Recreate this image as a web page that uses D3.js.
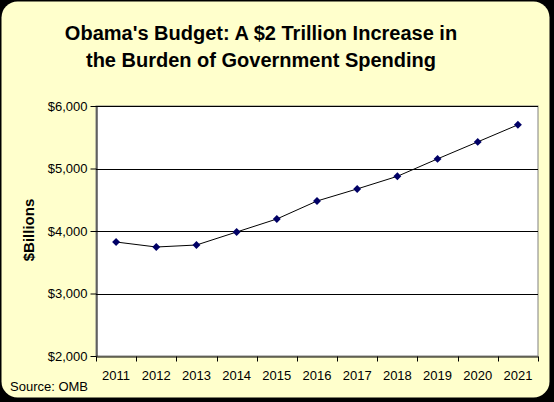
<!DOCTYPE html>
<html>
<head>
<meta charset="utf-8">
<script src="https://cdn.jsdelivr.net/npm/d3@7.9.0/dist/d3.min.js"></script>
<style>
  html, body { margin: 0; padding: 0; background: #000; }
  svg { display: block; }
  text { font-family: "Liberation Sans", Arial, sans-serif; }
</style>
</head>
<body>
<svg width="554" height="402"></svg>
<script>
const years = ['2011','2012','2013','2014','2015','2016','2017','2018','2019','2020','2021'];
const spending = [3824, 3744, 3776, 3984, 4192, 4480, 4673, 4875, 5154, 5426, 5699];
const yTicks = [2000, 3000, 4000, 5000, 6000];
const titleLines = ["Obama's Budget: A $2 Trillion Increase in", "the Burden of Government Spending"];

const svg = d3.select('svg');

// chart area background (rounded, pale yellow) on black
svg.append('rect')
  .attr('x', 1.5).attr('y', 1.5)
  .attr('width', 548).attr('height', 396)
  .attr('rx', 16)
  .attr('fill', '#ffffcc');

const plot = { left: 96, right: 538, top: 106, bottom: 356 };

const x = d3.scaleBand().domain(years).range([plot.left, plot.right]);
const y = d3.scaleLinear().domain([2000, 6000]).range([plot.bottom, plot.top]);

svg.append('rect')
  .attr('x', plot.left).attr('y', plot.top)
  .attr('width', plot.right - plot.left).attr('height', plot.bottom - plot.top)
  .attr('fill', '#fff')
  .attr('stroke', '#808080');

// gridlines
svg.append('g')
  .selectAll('line')
  .data(yTicks.slice(1))
  .join('line')
  .attr('x1', plot.left).attr('x2', plot.right)
  .attr('y1', d => Math.round(y(d)) + 0.5).attr('y2', d => Math.round(y(d)) + 0.5)
  .attr('stroke', '#000');

// y axis
const yAxis = svg.append('g')
  .attr('transform', `translate(${plot.left + 0.5},0)`)
  .call(d3.axisLeft(y).tickValues(yTicks).tickSize(6).tickSizeOuter(0)
    .tickFormat(d => '$' + d3.format(',')(d)));
yAxis.select('.domain').attr('stroke', '#000');
yAxis.selectAll('.tick line').attr('stroke', '#000');
yAxis.selectAll('text').attr('font-size', 13).attr('fill', '#000').attr('x', -9);

// x axis
const xAxis = svg.append('g')
  .attr('transform', `translate(0,${plot.bottom + 0.5})`)
  .call(d3.axisBottom(x).tickSize(0).tickSizeOuter(0));
xAxis.select('.domain').attr('stroke', '#000');
xAxis.selectAll('text').attr('font-size', 13).attr('fill', '#000').attr('dy', 0).attr('y', 23);
// category separator ticks
xAxis.append('g')
  .selectAll('line')
  .data(d3.range(years.length + 1))
  .join('line')
  .attr('x1', i => Math.round(plot.left + i * x.step()) + 0.5)
  .attr('x2', i => Math.round(plot.left + i * x.step()) + 0.5)
  .attr('y1', 0).attr('y2', 5)
  .attr('stroke', '#000');

// series line
const line = d3.line()
  .x((d, i) => x(years[i]) + x.bandwidth() / 2)
  .y(d => y(d));

svg.append('path')
  .datum(spending)
  .attr('d', line)
  .attr('fill', 'none')
  .attr('stroke', '#000')
  .attr('stroke-width', 1);

svg.append('g')
  .selectAll('path')
  .data(spending)
  .join('path')
  .attr('d', d3.symbol(d3.symbolDiamond2, 40))
  .attr('transform', (d, i) => `translate(${x(years[i]) + x.bandwidth() / 2},${y(d)})`)
  .attr('fill', '#000066');

// title
svg.append('text')
  .attr('x', 261).attr('y', 40)
  .attr('text-anchor', 'middle')
  .attr('font-size', 20).attr('font-weight', 'bold')
  .selectAll('tspan')
  .data(titleLines)
  .join('tspan')
  .attr('x', 261)
  .attr('dy', (d, i) => i ? 27 : 0)
  .text(d => d);

// y axis title
svg.append('text')
  .attr('transform', `translate(34,230) rotate(-90)`)
  .attr('text-anchor', 'middle')
  .attr('font-size', 15).attr('font-weight', 'bold')
  .text('$Billions');

svg.append('text')
  .attr('x', 10).attr('y', 391)
  .attr('font-size', 13)
  .text('Source: OMB');
</script>
</body>
</html>
